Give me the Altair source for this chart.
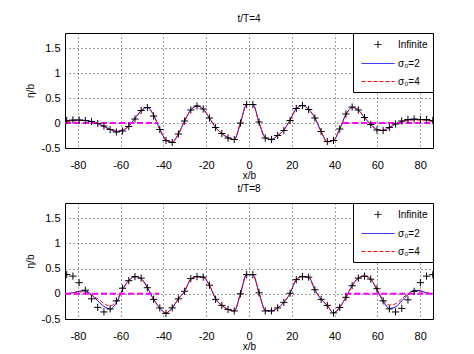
import altair as alt
import pandas as pd

# ---------------- data ----------------
X_POS = [-85.2, -82.3, -79.4, -76.5, -73.6, -70.7, -67.8, -64.9, -62.0, -59.1,
         -56.2, -53.3, -50.4, -47.5, -44.6, -41.7, -38.8, -35.9, -33.0, -30.1,
         -27.2, -24.3, -21.4, -18.5, -15.6, -12.7, -9.8, -6.9, -4.0, -1.1,
         1.8, 4.7, 7.6, 10.5, 13.4, 16.3, 19.2, 22.1, 25.0, 27.9,
         30.8, 33.7, 36.6, 39.5, 42.4, 45.3, 48.2, 51.1, 54.0, 56.9,
         59.8, 62.7, 65.6, 68.5, 71.4, 74.3, 77.2, 80.1, 83.0, 85.9]

# t/T = 4
INF_4 = [0.05, 0.06, 0.06, 0.05, 0.03, -0.01, -0.06, -0.13, -0.18, -0.16,
         -0.07, 0.08, 0.25, 0.31, 0.14, -0.13, -0.35, -0.39, -0.22, 0.04,
         0.26, 0.34, 0.28, 0.10, -0.09, -0.21, -0.30, -0.33, 0.00, 0.37,
         0.37, 0.02, -0.30, -0.33, -0.25, -0.15, 0.05, 0.29, 0.35, 0.27,
         0.10, -0.17, -0.37, -0.35, -0.12, 0.18, 0.32, 0.26, 0.11, -0.03,
         -0.14, -0.15, -0.09, -0.02, 0.04, 0.07, 0.08, 0.07, 0.07, 0.05]
SIG2_4 = [0.04, 0.05, 0.06, 0.05, 0.03, -0.01, -0.07, -0.13, -0.17, -0.15,
          -0.06, 0.09, 0.25, 0.31, 0.16, -0.12, -0.34, -0.38, -0.22, 0.04,
          0.26, 0.34, 0.28, 0.10, -0.09, -0.21, -0.29, -0.33, 0.00, 0.37,
          0.37, 0.01, -0.29, -0.33, -0.25, -0.14, 0.06, 0.29, 0.35, 0.27,
          0.10, -0.17, -0.37, -0.35, -0.12, 0.17, 0.31, 0.26, 0.11, -0.03,
          -0.13, -0.15, -0.09, -0.02, 0.03, 0.06, 0.07, 0.07, 0.06, 0.04]
SIG4_4 = [0.03, 0.04, 0.05, 0.05, 0.03, -0.01, -0.06, -0.12, -0.16, -0.14,
          -0.06, 0.09, 0.24, 0.31, 0.16, -0.12, -0.35, -0.39, -0.22, 0.04,
          0.26, 0.34, 0.28, 0.10, -0.09, -0.21, -0.30, -0.33, 0.00, 0.37,
          0.37, 0.01, -0.30, -0.33, -0.25, -0.14, 0.06, 0.29, 0.35, 0.27,
          0.10, -0.17, -0.38, -0.35, -0.12, 0.17, 0.31, 0.26, 0.11, -0.03,
          -0.13, -0.14, -0.09, -0.02, 0.03, 0.05, 0.06, 0.06, 0.05, 0.03]

# t/T = 8
INF_8 = [0.38, 0.35, 0.22, 0.07, -0.10, -0.27, -0.36, -0.30, -0.14, 0.11,
         0.26, 0.34, 0.31, 0.12, -0.11, -0.28, -0.39, -0.28, -0.10, 0.05,
         0.30, 0.34, 0.33, 0.17, -0.11, -0.23, -0.31, -0.34, 0.00, 0.38,
         0.38, 0.02, -0.34, -0.34, -0.28, -0.17, 0.01, 0.28, 0.34, 0.33,
         0.08, -0.11, -0.23, -0.38, -0.27, -0.07, 0.16, 0.31, 0.35, 0.29,
         0.10, -0.14, -0.30, -0.36, -0.29, -0.12, 0.05, 0.22, 0.35, 0.38]
SIG2_8 = [0.00, 0.02, 0.05, 0.06, -0.02, -0.14, -0.25, -0.30, -0.18, 0.08,
          0.26, 0.34, 0.30, 0.12, -0.11, -0.28, -0.38, -0.28, -0.10, 0.05,
          0.29, 0.34, 0.33, 0.17, -0.10, -0.23, -0.31, -0.34, 0.00, 0.38,
          0.38, 0.02, -0.33, -0.34, -0.28, -0.17, 0.01, 0.28, 0.34, 0.33,
          0.08, -0.11, -0.23, -0.38, -0.27, -0.07, 0.16, 0.31, 0.35, 0.29,
          0.08, -0.15, -0.29, -0.26, -0.14, -0.02, 0.07, 0.06, 0.02, 0.00]
SIG4_8 = [0.00, 0.02, 0.04, 0.04, -0.03, -0.10, -0.19, -0.24, -0.14, 0.09,
          0.26, 0.34, 0.30, 0.12, -0.11, -0.28, -0.38, -0.28, -0.10, 0.05,
          0.29, 0.34, 0.33, 0.17, -0.10, -0.23, -0.31, -0.34, 0.00, 0.38,
          0.38, 0.02, -0.33, -0.34, -0.28, -0.17, 0.01, 0.28, 0.34, 0.33,
          0.08, -0.11, -0.23, -0.38, -0.27, -0.07, 0.16, 0.31, 0.35, 0.29,
          0.09, -0.12, -0.22, -0.20, -0.10, 0.00, 0.05, 0.04, 0.02, 0.00]

# dashed magenta zero segments (outer regions)
MAG_X_4 = [-86, -42.5, 44, 86]
MAG_X_8 = [-86, -42.0, 45, 86]
MAG_Y = [0, 0, 0, 0]
MAG_SEG = ["left", "left", "right", "right"]

SERIES_KEYS = ["inf", "s2", "s4"]
SERIES_LABELS = ["Infinite", "σ₀=2", "σ₀=4"]
X_TICKS = [-80, -60, -40, -20, 0, 20, 40, 60, 80]
Y_TICKS = [-0.5, 0.0, 0.5, 1.0, 1.5]

PLUS = "M-0.6,0H0.6M0,-0.6V0.6"              # marker in the plot
LEG_PLUS = "M1.65,0H2.85M2.25,-0.6V0.6"      # legend marker, centred over the legend line
LEG_LINE = "M-0.5,0H5"                        # legend line sample

FONT = "Liberation Sans"

LABEL_EXPR = ("datum.value === 'inf' ? '" + SERIES_LABELS[0] + "' : (datum.value === 's2' ? '"
              + SERIES_LABELS[1] + "' : '" + SERIES_LABELS[2] + "')")
LEG_STROKE_EXPR = "datum.value === 's2' ? '#0000ff' : (datum.value === 's4' ? '#ff0000' : '#000000')"

LEGEND = alt.Legend(
    title=None, orient="top-right", labelExpr=LABEL_EXPR,
    symbolType=alt.ExprRef(expr=f"datum.value === 'inf' ? '{LEG_PLUS}' : '{LEG_LINE}'"),
    symbolDash=alt.ExprRef(expr="datum.value === 's4' ? [4, 2] : [1, 0]"),
    symbolStrokeColor=alt.ExprRef(expr=LEG_STROKE_EXPR),
)


def panel(title, inf, s2, s4, magx, h):
    n = len(X_POS)
    s2_df = pd.DataFrame({"x": X_POS, "y": s2})
    s4_df = pd.DataFrame({"x": X_POS, "y": s4})
    pts_df = pd.DataFrame({"x": X_POS, "y": inf, "series": [SERIES_KEYS[0]] * n})
    mag_df = pd.DataFrame({"x": magx, "y": MAG_Y, "seg": MAG_SEG})

    x_enc = alt.X("x:Q", scale=alt.Scale(domain=[-86, 86], nice=False, zero=False),
                  axis=alt.Axis(values=X_TICKS, title="x/b", labelExpr="'' + datum.value",
                                labelPadding=11, titlePadding=0, labelOverlap=False))
    y_enc = alt.Y("y:Q", scale=alt.Scale(domain=[-0.5, 1.8], nice=False, zero=False),
                  axis=alt.Axis(values=Y_TICKS, title="η/b", labelExpr="'' + datum.value",
                                labelPadding=5, titlePadding=6, labelOverlap=False,
                                labelSeparation=0))

    line2 = alt.Chart(s2_df).mark_line(color="#0000ff", strokeWidth=1, clip=True,
                                       interpolate="monotone").encode(x=x_enc, y=y_enc)
    line4 = alt.Chart(s4_df).mark_line(color="#ff0000", strokeWidth=1, strokeDash=[4, 2], clip=True,
                                       interpolate="monotone").encode(x=x_enc, y=y_enc)
    mag = alt.Chart(mag_df).mark_line(color="#ff00ff", strokeWidth=2, strokeDash=[6, 3], clip=True).encode(
        x=x_enc, y=y_enc, detail="seg:N"
    )
    pts = alt.Chart(pts_df).mark_point(shape=PLUS, filled=False, size=144, strokeWidth=1,
                                       opacity=1, clip=True).encode(
        x=x_enc, y=y_enc,
        stroke=alt.Stroke("series:N",
                          scale=alt.Scale(domain=SERIES_KEYS,
                                          range=["#000000", "#000000", "#000000"]),
                          legend=None),
        fill=alt.Fill("series:N",
                      scale=alt.Scale(domain=SERIES_KEYS,
                                      range=["transparent", "transparent", "transparent"]),
                      legend=LEGEND),
    )
    return alt.layer(line2, line4, mag, pts).properties(
        width=368, height=h,
        title=alt.TitleParams(title, fontSize=10, fontWeight="normal", font=FONT),
    )


top = panel("t/T=4", INF_4, SIG2_4, SIG4_4, MAG_X_4, 115)
bottom = panel("t/T=8", INF_8, SIG2_8, SIG4_8, MAG_X_8, 116)

chart = (
    alt.vconcat(top, bottom, spacing=2)
    .resolve_legend(fill="independent")
    .properties(padding={"left": 24, "top": 13, "right": 0, "bottom": 0}, background="white")
    .configure_view(stroke="black", strokeWidth=1)
    .configure_axis(
        grid=True, gridColor="#000000", gridDash=[1, 3], gridOpacity=0.75, gridWidth=1,
        domain=False, ticks=False, labelOverlap=False,
        labelFont=FONT, labelFontSize=11, labelColor="black",
        titleFont=FONT, titleFontSize=10, titleFontWeight="normal", titleColor="black",
    )
    .configure_title(offset=9, color="black")
    .configure_legend(
        strokeColor="black", fillColor="white", cornerRadius=0, padding=5, offset=0,
        symbolSize=144, symbolStrokeWidth=1, labelFont=FONT, labelFontSize=10,
        labelColor="black", labelOffset=27, rowPadding=6,
    )
)

chart.save("out.html", embed_options={"renderer": "svg", "actions": False})
